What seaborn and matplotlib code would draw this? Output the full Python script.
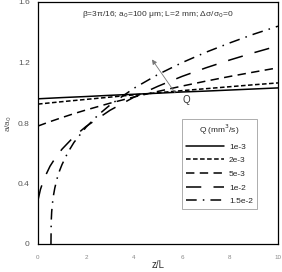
import matplotlib
matplotlib.use("Agg")
import matplotlib.pyplot as plt
import seaborn as sns
import pandas as pd

# ---- data ----
z_s1 = [0, 1, 2, 3, 4, 5, 6, 7, 8, 9, 10]
a_s1 = [0.960, 0.968, 0.975, 0.983, 0.990, 0.997, 1.005, 1.011, 1.018, 1.025, 1.032]

z_s2 = [0, 1, 2, 3, 4, 5, 6, 7, 8, 9, 10]
a_s2 = [0.925, 0.941, 0.956, 0.971, 0.986, 1.000, 1.014, 1.027, 1.040, 1.053, 1.065]

z_s3 = [0, 0.5, 1, 1.5, 2, 3, 4, 5, 6, 7, 8, 9, 10]
a_s3 = [0.780, 0.809, 0.836, 0.862, 0.886, 0.931, 0.972, 1.009, 1.044, 1.077, 1.108, 1.137, 1.165]

z_s4 = [0, 0.1, 0.25, 0.5, 0.75, 1, 1.5, 2, 3, 4, 5, 6, 7, 8, 9, 10]
a_s4 = [0.290, 0.360, 0.431, 0.514, 0.576, 0.627, 0.710, 0.777, 0.884, 0.971,
        1.043, 1.108, 1.165, 1.217, 1.265, 1.310]

z_s5 = [0.54, 0.55, 0.57, 0.6, 0.65, 0.7, 0.8, 0.9, 1.0, 1.25, 1.5, 2, 2.5, 3,
        4, 5, 6, 7, 8, 9, 10]
a_s5 = [0.0, 0.147, 0.212, 0.266, 0.326, 0.370, 0.435, 0.485, 0.525, 0.607,
        0.672, 0.772, 0.852, 0.919, 1.030, 1.121, 1.199, 1.268, 1.330, 1.388, 1.440]

labels = ["1e-3", "2e-3", "5e-3", "1e-2", "1.5e-2"]
xticks = [0, 2, 4, 6, 8, 10]
yticks = [0, 0.4, 0.8, 1.2, 1.6]

series = [(z_s1, a_s1), (z_s2, a_s2), (z_s3, a_s3), (z_s4, a_s4), (z_s5, a_s5)]
styles = ["-", (0, (3, 1.6)), (0, (5.5, 3.5)), (0, (10, 8)), (0, (7, 4, 1, 4))]

sns.set_style("white")
plt.rcParams["font.family"] = ["Liberation Sans", "DejaVu Sans"]

fig = plt.figure(figsize=(2.82, 2.72), dpi=100)
ax = fig.add_axes([38 / 282, 1 - 244 / 272, 240 / 282, 242 / 272])

for (zz, aa), lab, ls in zip(series, labels, styles):
    df = pd.DataFrame({"z": zz, "a": aa})
    sns.lineplot(data=df, x="z", y="a", color="black", lw=1.1, linestyle=ls,
                 label=lab, ax=ax, sort=False)

ax.set_xlim(0, 10)
ax.set_ylim(0, 1.6)
ax.set_xticks(xticks)
ax.set_xticklabels([str(t) for t in xticks])
ax.set_yticks(yticks)
ax.set_yticklabels(["0", "0.4", "0.8", "1.2", "1.6"])
ax.set_xticks([1, 3, 5, 7, 9], minor=True)
ax.set_yticks([0.2, 0.6, 1.0, 1.4], minor=True)

ax.tick_params(axis="x", which="major", direction="in", length=4, width=0.8,
               labelsize=4.5, labelcolor="#888888", pad=8, top=False)
ax.tick_params(axis="x", which="minor", direction="in", length=2.5, width=0.8)
ax.tick_params(axis="y", which="major", direction="out", length=4, width=0.8,
               labelsize=6, labelcolor="#555555", pad=2, right=False)
ax.tick_params(axis="y", which="minor", direction="out", length=2.5, width=0.8)

for sp in ax.spines.values():
    sp.set_color("black")
    sp.set_linewidth(0.9)

ax.set_xlabel("z/L", fontsize=7, color="#333333", labelpad=0)
ax.set_ylabel("a/a$_0$", fontsize=6, color="#555555", labelpad=3)

ax.text(5, 1.515, "β=3π/16; a$_0$=100 μm; L=2 mm; Δσ/σ$_0$=0",
        ha="center", va="center", fontsize=6, color="#333333")

ax.annotate("", xy=(4.75, 1.22), xytext=(5.71, 1.0),
            arrowprops=dict(arrowstyle="-|>", color="#777777", lw=0.6,
                            mutation_scale=7, shrinkA=0, shrinkB=0))
ax.text(6.2, 0.955, "Q", fontsize=7, color="#333333", ha="center", va="center")

leg = ax.legend(title="Q (mm$^3$/s)", loc="upper left",
                bbox_to_anchor=(0.6, 0.517), fontsize=6, title_fontsize=6,
                frameon=True, fancybox=False, edgecolor="#888888",
                handlelength=4.6, handletextpad=0.6, borderpad=0.45,
                labelspacing=0.7, borderaxespad=0)
leg.get_frame().set_linewidth(0.6)

fig.savefig("out.png", dpi=100)
